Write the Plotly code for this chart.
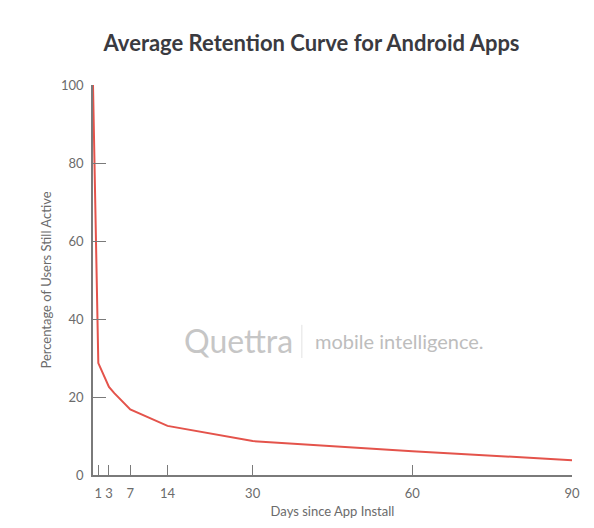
import plotly.graph_objects as go

# Average retention (% of users still active) by days since install
days = [0, 1, 3, 4, 7, 14, 30, 60, 90]
retention = [100, 28.7, 22.6, 21.0, 16.8, 12.6, 8.7, 6.1, 3.8]
tick_days = [1, 3, 7, 14, 30, 60, 90]
y_ticks = [0, 20, 40, 60, 80, 100]

axis_grey = "#7a7a7a"
label_grey = "#6b6b6b"
red = "#e4534b"

fig = go.Figure()
fig.add_trace(go.Scatter(x=days, y=retention, mode="lines",
                         line=dict(color=red, width=2), hoverinfo="skip"))

# page body adds an 8px offset, so margins are shifted to match
fig.update_layout(
    width=594, height=528,
    margin=dict(l=85, r=30, t=77, b=61, autoexpand=False),
    paper_bgcolor="white", plot_bgcolor="white",
    showlegend=False,
    font=dict(family="Lato, Open Sans, sans-serif", color=label_grey, size=13),
    title=dict(text="<b>Average Retention Curve for Android Apps</b>",
               x=0.511, xanchor="center", y=0.934, yanchor="middle",
               font=dict(size=22, color="#3a3a40")),
)

fig.update_xaxes(
    range=[0, 90], tickvals=tick_days, ticks="inside", ticklen=10,
    tickcolor=axis_grey, tickwidth=1, showline=True, linecolor=axis_grey,
    linewidth=1.5, showgrid=False, zeroline=False, automargin=False,
    ticklabelstandoff=6,
    tickfont=dict(size=13, color=label_grey),
    title=dict(text="Days since App Install", standoff=7,
               font=dict(size=13, color=label_grey)),
)
fig.update_yaxes(
    range=[0, 100], tickvals=y_ticks, ticks="inside", ticklen=13,
    tickcolor=axis_grey, tickwidth=1, showline=True, linecolor=axis_grey,
    linewidth=1.5, showgrid=False, zeroline=False, automargin=False,
    ticklabelstandoff=5,
    tickfont=dict(size=13, color=label_grey),
    title=dict(text="Percentage of Users Still Active", standoff=6,
               font=dict(size=13, color=label_grey)),
)

# watermark
fig.add_annotation(text="Quettra", xref="paper", yref="paper", x=0.186, y=0.346,
                   xanchor="left", yanchor="middle",
                   showarrow=False, font=dict(size=32, color="#c6c6c6"))
fig.add_annotation(text="mobile intelligence.", xref="paper", yref="paper",
                   x=0.459, y=0.343, xanchor="left", yanchor="middle",
                   showarrow=False, font=dict(size=20, color="#bdbdbd"))
fig.add_shape(type="line", xref="paper", yref="paper", x0=0.436, x1=0.436,
              y0=0.30, y1=0.385, line=dict(color="#e2e2e2", width=1))

fig.write_html("out.html")
